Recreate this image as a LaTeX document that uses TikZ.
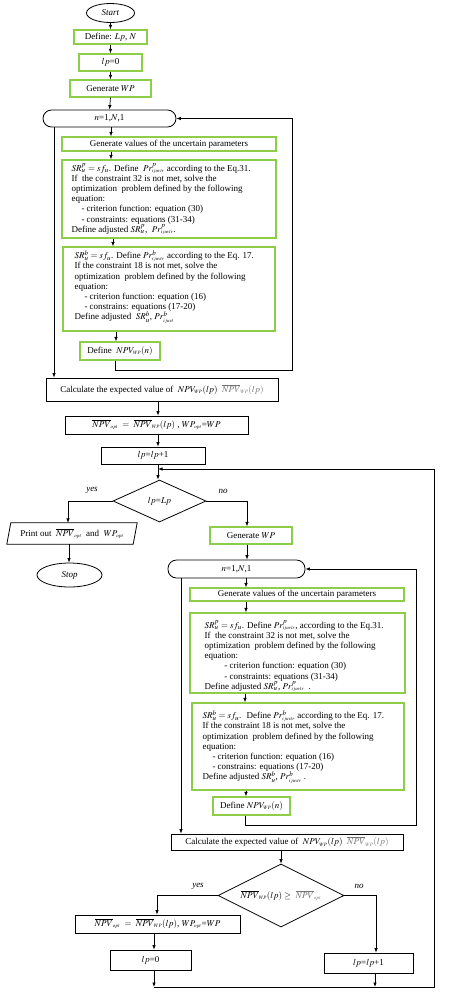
\documentclass[tikz,border=0pt]{standalone}
\usepackage{mathptmx}
\usepackage{fontspec}
\setmainfont{Liberation Serif}
\usetikzlibrary{shapes.geometric,arrows.meta}
\definecolor{boxgreen}{RGB}{140,206,72}
\definecolor{fade}{gray}{0.45}
\newcommand{\ssub}[1]{_{\scriptscriptstyle #1}}
\begin{document}
\begin{tikzpicture}[x=1pt,y=-1pt,
  every node/.style={font=\fontsize{9}{10.2}\selectfont, inner sep=1pt},
  gbox/.style={draw=boxgreen, line width=1.2pt, rectangle},
  kbox/.style={draw=black, line width=0.8pt, rectangle},
  stad/.style={draw=black, line width=0.8pt, rectangle, rounded corners=8.5pt},
  oval/.style={draw=black, line width=0.8pt, ellipse, inner sep=0pt},
  dia/.style={draw=black, line width=0.8pt, diamond, inner sep=0pt},
  bigbox/.style={gbox, inner sep=0pt},
  boxtext/.style={align=left, inner sep=0pt, anchor=north west},
  arr/.style={-{Latex[length=4.5pt,width=3.5pt]}, line width=0.7pt},
  lbl/.style={font=\itshape\fontsize{9}{10}\selectfont}]
\useasboundingbox (0,0) rectangle (474,994);

% helper coordinates
\coordinate (x54) at (54,0);
\coordinate (x68) at (68,0);
\coordinate (x69) at (69,0);
\coordinate (x111) at (111,0);
\coordinate (x113) at (113,0);
\coordinate (x115) at (115,0);
\coordinate (x116) at (116,0);
\coordinate (x158) at (158,0);
\coordinate (x247) at (247,0);
\coordinate (x246) at (246,0);
\coordinate (x245) at (245,0);
\coordinate (x181) at (181,0);
\coordinate (x281) at (281,0);
\coordinate (x157) at (157,0);
\coordinate (x154) at (154,0);
\coordinate (x376) at (376,0);
\coordinate (x375) at (375,0);
\coordinate (r1) at (292,370);
\coordinate (r2) at (416,825);
\coordinate (b1) at (154,987);
\coordinate (b2) at (375,987);
\coordinate (b3) at (434,987);
\coordinate (b4) at (434,469);
\coordinate (m1) at (158,469);

% ---------- column 1 ----------
\node[oval, minimum width=48pt, minimum height=19pt] (start) at (110.5,13) {\textit{Start}};
\node[gbox, minimum width=73pt, minimum height=14pt] (def) at (110.5,37) {Define: $Lp$, $N$};
\node[gbox, minimum width=63pt, minimum height=17pt] (lp0) at (110.5,62.5) {$lp$=0};
\node[gbox, minimum width=81pt, minimum height=17pt] (gen1) at (110.5,88.5) {Generate $WP$};
\node[stad, minimum width=133pt, minimum height=17pt] (loop1) at (109.5,118.5) {$n$=1,$N$,1};
\node[gbox, minimum width=214pt, minimum height=14pt] (gv1) at (169,144) {Generate values of the uncertain parameters};
\node[bigbox, minimum width=214pt, minimum height=78pt] (srp1) at (169,199) {};
\node[boxtext] (srp1t) at ([xshift=10pt,yshift=-4pt]srp1.north west) {%
$SR_u^p=sf_u$. Define \ $Pr^{p}\ssub{ijuvtr}$ according to the Eq.31.\\
If \ the constraint 32 is not met, solve the\\
optimization \ problem defined by the following\\
equation:\\
\hspace*{1.1em}- criterion function: equation (30)\\
\hspace*{1.1em}- constraints: equations (31-34)\\
Define adjusted $SR_u^p$, \ $Pr^{p}\ssub{ijuvtr}$.};
\node[bigbox, minimum width=212pt, minimum height=84pt] (srb1) at (169,289) {};
\node[boxtext] (srb1t) at ([xshift=12pt,yshift=-4pt]srb1.north west) {%
$SR_u^b=sf_u$. Define $Pr^{b}\ssub{ijuvtr}$ according to the Eq. 17.\\
If the constraint 18 is not met, solve the\\
optimization \ problem defined by the following\\
equation:\\
\hspace*{1.1em}- criterion function: equation (16)\\
\hspace*{1.1em}- constrains: equations (17-20)\\
Define adjusted \ $SR_{u}^b$, $Pr^{b}\ssub{ijuvt}$};
\node[gbox, minimum width=80pt, minimum height=18pt] (npv1) at (120,351) {Define \ $NPV\ssub{WP}(n)$};
\node[kbox, minimum width=232pt, minimum height=23pt] (calc1) at (162,389.5) {Calculate the expected value of \ $NPV\ssub{WP}(lp)$ \ {\color{fade}$\overline{NPV}\ssub{WP}(lp)$}};
\node[kbox, minimum width=183pt, minimum height=18pt] (opt1) at (156.5,425) {$\overline{NPV}\ssub{opt}\ =\ \overline{NPV}\ssub{WP}(lp)$ , $WP\ssub{opt}$=$WP$};
\node[kbox, minimum width=104pt, minimum height=17pt] (lpinc1) at (153,455.5) {$lp$=$lp$+1};
\node[dia, minimum width=93pt, minimum height=42pt, aspect=2.2] (dec1) at (159.5,501) {$lp$=$Lp$};
\node[minimum width=130pt, minimum height=21pt] (print) at (72,533.5) {Print out \ $\overline{NPV}\ssub{opt}$ \ and \ $WP\ssub{opt}$};
\draw[line width=0.8pt] ([xshift=4pt]print.north west) -- (print.north east) -- ([xshift=-4pt]print.south east) -- (print.south west) -- cycle;
\node[oval, minimum width=65pt, minimum height=24pt] (stop) at (69.5,575) {\textit{Stop}};
\node[lbl] (yes1) at (92,490) {yes};
\node[lbl] (no1) at (223,491) {no};

% ---------- column 2 ----------
\node[gbox, minimum width=82pt, minimum height=17pt] (gen2) at (251,535.5) {Generate $WP$};
\node[stad, minimum width=137pt, minimum height=18pt] (loop2) at (236.5,569) {$n$=1,$N$,1};
\node[gbox, minimum width=214pt, minimum height=13pt] (gv2) at (297,594.5) {Generate values of the uncertain parameters};
\node[bigbox, minimum width=215pt, minimum height=80pt] (srp2) at (297.5,653) {};
\node[boxtext] (srp2t) at ([xshift=15pt,yshift=-8pt]srp2.north west) {%
$SR_u^p=sf_u$. Define $Pr^{p}\ssub{ijuvtr}$, according to the Eq.31.\\
If \ the constraint 32 is not met, solve the\\
optimization \ problem defined by the following\\
equation:\\
\hspace*{2.2em}- criterion function: equation (30)\\
\hspace*{2.2em}- constraints: equations (31-34)\\
Define adjusted $SR_u^p$, $Pr^{p}\ssub{ijuvtr}$ \ .};
\node[bigbox, minimum width=212pt, minimum height=87pt] (srb2) at (298,746.5) {};
\node[boxtext] (srb2t) at ([xshift=11pt,yshift=-8pt]srb2.north west) {%
$SR_u^b=sf_u$. \ Define $Pr^{b}\ssub{ijuvtr}$ according to the Eq. 17.\\
If the constraint 18 is not met, solve the\\
optimization \ problem defined by the following\\
equation:\\
\hspace*{1.1em}- criterion function: equation (16)\\
\hspace*{1.1em}- constrains: equations (17-20)\\
Define adjusted $SR_u^b$, $Pr^{b}\ssub{ijuvtr}$ .};
\node[gbox, minimum width=77pt, minimum height=18pt] (npv2) at (251.5,806) {Define $NPV\ssub{WP}(n)$};
\node[kbox, minimum width=232pt, minimum height=16pt] (calc2) at (287,842) {Calculate the expected value of \ $NPV\ssub{WP}(lp)$ \ {\color{fade}$\overline{NPV}\ssub{WP}(lp)$}};
\node[dia, minimum width=126pt, minimum height=63pt, aspect=2] (dec2) at (281,895.5) {$\overline{NPV}\ssub{WP}(lp)\geq$ \ {\color{fade}$\overline{NPV}\ssub{opt}$}};
\node[kbox, minimum width=165pt, minimum height=18pt] (opt2) at (157.5,924) {$\overline{NPV}\ssub{opt}\ =\ \overline{NPV}\ssub{WP}(lp)$, $WP\ssub{opt}$=$WP$};
\node[kbox, minimum width=81pt, minimum height=20pt] (lp0b) at (150.5,960) {$lp$=0};
\node[kbox, minimum width=89pt, minimum height=20pt] (lpinc2) at (368.5,963) {$lp$=$lp$+1};
\node[lbl] (yes2) at (198,886) {yes};
\node[lbl] (no2) at (359,886) {no};

% ---------- connectors column 1 ----------
\draw[arr] (start.south) -- (def.north);
\draw[arr] (def.south) -- (lp0.north);
\draw[arr] (lp0.south) -- (gen1.north);
\draw[arr] (gen1.south) -- (loop1.south |- loop1.north);
\draw[arr] (loop1.south -| x111) -- (gv1.north -| x111);
\draw[arr] (gv1.south -| x111) -- (srp1.north -| x111);
\draw[arr] (srp1.south -| x113) -- (srb1.north -| x113);
\draw[arr] (srb1.south -| x116) -- (npv1.north -| x116);
\draw[arr] (npv1.south -| x115) |- (r1) |- (loop1.east);
\draw[arr] (loop1.south -| x54) -- (calc1.north -| x54);
\draw[arr] (calc1.south -| x158) -- (opt1.north -| x158);
\draw[arr] (opt1.south -| x158) -- (lpinc1.north -| x158);
\draw[arr] (lpinc1.south -| x158) -- (dec1.north -| x158);
\draw[arr] (dec1.west) -| (print.north -| x68);
\draw[arr] (print.south -| x69) -- (stop.north -| x69);
\draw[arr] (dec1.east) -| (gen2.north -| x247);

% ---------- connectors column 2 ----------
\draw[arr] (gen2.south -| x247) -- (loop2.north -| x247);
\draw[arr] (loop2.south -| x246) -- (gv2.north -| x246);
\draw[arr] (gv2.south -| x246) -- (srp2.north -| x246);
\draw[arr] (srp2.south -| x245) -- (srb2.north -| x245);
\draw[arr] (srb2.south -| x246) -- (npv2.north -| x246);
\draw[arr] (npv2.south -| x245) |- (r2) |- (loop2.east);
\draw[arr] (loop2.south -| x181) -- (calc2.north -| x181);
\draw[arr] (calc2.south -| x281) -- (dec2.north);
\draw[arr] (dec2.west) -| (opt2.north -| x157);
\draw[arr] (opt2.south -| x154) -- (lp0b.north -| x154);
\draw[arr] (dec2.east) -| (lpinc2.north -| x376);
\draw[arr] (lp0b.south -| x154) -- (b1);
\draw[arr] (lpinc2.south -| x375) -- (b2);
\draw[arr] (b1) -- (b3) -- (b4) -- (m1);
\end{tikzpicture}
\end{document}
